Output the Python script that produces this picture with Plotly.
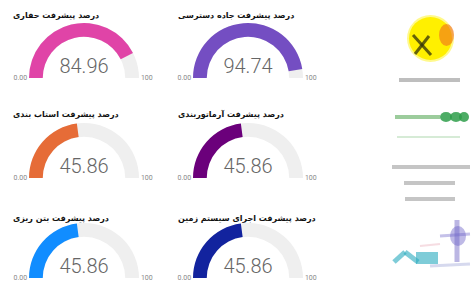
import plotly.graph_objects as go

W, H = 474, 283

# ---- data ----
titles = [
    "درصد پیشرفت حفاری",
    "درصد پیشرفت جاده دسترسی",
    "درصد پیشرفت استاب بندی",
    "درصد پیشرفت آرماتوربندی",
    "درصد پیشرفت بتن ریزی",
    "درصد پیشرفت اجرای سیستم زمین",
]
values = [84.96, 94.74, 45.86, 45.86, 45.86, 45.86]
gauge_min = 0
gauge_max = 100
tick_labels = ["0.00", "100"]
colors = ["#E044A7", "#744EC2", "#E66C37", "#6B007B", "#118DFF", "#12239E"]

# ---- layout geometry (pixels) ----
col_cx = [84, 248]
row_cy = [78, 178, 278]
R = 55
title_x = [11, 176]
title_y = [16, 114, 218]


def px_x(x):
    return x / W


def px_y(y):
    return 1 - y / H


fig = go.Figure()
annotations = []
for i, (t, v, c) in enumerate(zip(titles, values, colors)):
    col, row = i % 2, i // 2
    cx, cy = col_cx[col], row_cy[row]
    fig.add_trace(go.Indicator(
        mode="gauge+number",
        value=v,
        number=dict(font=dict(size=20, color="#666666", family="Roboto", weight=300),
                    valueformat=".2f"),
        domain=dict(x=[px_x(cx - R), px_x(cx + R)], y=[px_y(cy), px_y(cy - R)]),
        gauge=dict(
            shape="angular",
            axis=dict(range=[gauge_min, gauge_max], tickvals=[gauge_min, gauge_max],
                      ticktext=tick_labels, ticks="", tickwidth=0,
                      tickcolor="#888888",
                      tickfont=dict(size=7, color="#888888", family="Roboto")),
            bar=dict(color=c, thickness=1, line=dict(width=0)),
            bgcolor="#efefef",
            borderwidth=0,
        ),
    ))
    annotations.append(dict(
        text="<b>" + t + "</b>", x=px_x(title_x[col]), y=px_y(title_y[row]),
        xref="paper", yref="paper",
        xanchor="left", yanchor="middle", showarrow=False,
        font=dict(size=8, color="#111111", family="DejaVu Sans"),
    ))

# ---- right column logos (decorative) ----
shapes = []


def rect(x0, y0, x1, y1, color, **kw):
    shapes.append(dict(type="rect", xref="paper", yref="paper",
                       x0=px_x(x0), x1=px_x(x1), y0=px_y(y1), y1=px_y(y0),
                       fillcolor=color, line=dict(width=0), layer="above", **kw))


def circle(x0, y0, x1, y1, color, **kw):
    shapes.append(dict(type="circle", xref="paper", yref="paper",
                       x0=px_x(x0), x1=px_x(x1), y0=px_y(y1), y1=px_y(y0),
                       fillcolor=color, line=dict(width=0), layer="above", **kw))


def line(x0, y0, x1, y1, color, w):
    shapes.append(dict(type="line", xref="paper", yref="paper",
                       x0=px_x(x0), x1=px_x(x1), y0=px_y(y0), y1=px_y(y1),
                       line=dict(color=color, width=w), layer="above"))


# yellow logo
circle(407, 15, 454, 62, "rgba(255,242,0,0.45)")
circle(409, 17, 452, 60, "#fff000")
circle(439, 24, 454, 46, "rgba(240,110,30,0.6)")
line(413, 35, 431, 55, "rgba(50,50,10,0.75)", 3)
line(429, 36, 415, 54, "rgba(50,50,10,0.75)", 3)
# gray caption
line(399, 80, 460, 80, "rgba(110,110,110,0.45)", 4)
# green logo
line(395, 117, 440, 117, "rgba(90,170,90,0.6)", 4)
circle(440, 112, 452, 122, "rgba(46,158,74,0.85)")
circle(450, 112, 462, 122, "rgba(46,158,74,0.85)")
circle(459, 112, 469, 122, "rgba(46,158,74,0.85)")
line(397, 137, 460, 137, "rgba(120,190,120,0.3)", 2)
# gray contact text
line(392, 167, 470, 167, "rgba(110,110,110,0.4)", 4)
line(404, 183, 455, 183, "rgba(110,110,110,0.4)", 4)
line(405, 199, 455, 199, "rgba(110,110,110,0.4)", 4)
# bottom logo
line(457, 220, 457, 262, "rgba(120,110,200,0.5)", 5)
circle(450, 226, 466, 246, "rgba(110,100,200,0.45)")
line(440, 236, 470, 234, "rgba(110,100,200,0.4)", 3)
line(394, 262, 405, 252, "rgba(40,170,190,0.6)", 5)
line(405, 252, 418, 262, "rgba(40,170,190,0.6)", 5)
rect(416, 252, 438, 264, "rgba(40,170,190,0.6)")
line(430, 266, 470, 264, "rgba(120,130,200,0.3)", 3)
line(420, 246, 440, 244, "rgba(220,120,140,0.25)", 2)

fig.update_layout(
    width=W, height=H,
    margin=dict(l=0, r=0, t=0, b=0),
    paper_bgcolor="white",
    plot_bgcolor="white",
    annotations=annotations,
    shapes=shapes,
    showlegend=False,
)

fig.write_html("out.html")
